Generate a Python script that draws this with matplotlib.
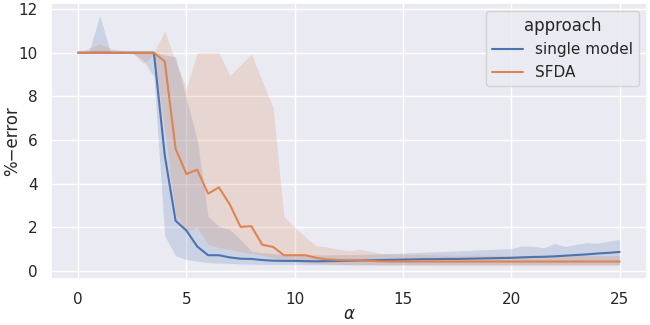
import numpy as np
import matplotlib
matplotlib.use("Agg")
import matplotlib.pyplot as plt
import seaborn as sns

alpha = [i * 0.5 for i in range(51)]

single_mean = [10, 10, 10, 10, 10, 10, 10, 10, 5.3, 2.3,
               1.85, 1.12, 0.72, 0.72, 0.62, 0.56, 0.55, 0.5, 0.47, 0.46,
               0.46, 0.45, 0.44, 0.45, 0.46, 0.47, 0.48, 0.49, 0.5, 0.51,
               0.52, 0.53, 0.54, 0.54, 0.55, 0.55, 0.56, 0.57, 0.58, 0.59,
               0.6, 0.62, 0.64, 0.65, 0.67, 0.7, 0.73, 0.76, 0.8, 0.83, 0.87]
single_hi = [10, 10.05, 11.7, 10, 10, 10, 10, 10, 9.9, 9.8,
             7.9, 6.0, 2.5, 2.05, 1.9, 1.44, 0.91, 0.83, 0.8, 0.75,
             0.75, 0.74, 0.74, 0.74, 0.75, 0.75, 0.76, 0.77, 0.78, 0.8,
             0.82, 0.84, 0.86, 0.88, 0.9, 0.92, 0.94, 0.96, 0.98, 1.0,
             1.03, 1.14, 1.13, 1.06, 1.26, 1.12, 1.22, 1.3, 1.27, 1.37, 1.44]
single_lo = [10, 10, 10, 10, 10, 10, 9.65, 8.9, 1.6, 0.7,
             0.52, 0.45, 0.38, 0.36, 0.34, 0.32, 0.31, 0.3, 0.3, 0.3,
             0.3, 0.29, 0.29, 0.29, 0.29, 0.29, 0.29, 0.29, 0.29, 0.29,
             0.29, 0.29, 0.29, 0.29, 0.29, 0.29, 0.29, 0.29, 0.29, 0.29,
             0.29, 0.29, 0.29, 0.29, 0.29, 0.29, 0.29, 0.29, 0.29, 0.29, 0.29]

sfda_mean = [10, 10, 10, 10, 10, 10, 10, 10, 9.6, 5.6,
             4.44, 4.64, 3.54, 3.83, 3.05, 2.02, 2.05, 1.2, 1.1, 0.72,
             0.72, 0.72, 0.6, 0.53, 0.5, 0.5, 0.5, 0.46, 0.44, 0.43,
             0.43, 0.43, 0.43, 0.43, 0.43, 0.43, 0.43, 0.43, 0.43, 0.43,
             0.43, 0.43, 0.43, 0.43, 0.43, 0.43, 0.43, 0.43, 0.43, 0.43, 0.43]
sfda_hi = [10, 10.2, 10.4, 10.2, 10.1, 10, 10, 10, 11.0, 9.6,
           8.36, 10, 10, 10, 8.95, 9.45, 9.95, 8.7, 7.5, 2.5,
           2.0, 1.55, 1.15, 1.1, 1.0, 0.93, 1.0, 0.9, 0.8, 0.78,
           0.76, 0.75, 0.75, 0.74, 0.73, 0.72, 0.72, 0.72, 0.72, 0.71,
           0.7, 0.7, 0.7, 0.7, 0.7, 0.7, 0.7, 0.7, 0.7, 0.7, 0.7]
sfda_lo = [10, 10, 10, 10, 10, 10, 9.5, 9.9, 6.5, 2.6,
           1.82, 2.0, 1.22, 1.07, 0.99, 0.87, 0.8, 0.72, 0.62, 0.46,
           0.42, 0.38, 0.35, 0.32, 0.3, 0.28, 0.27, 0.26, 0.25, 0.25,
           0.25, 0.25, 0.25, 0.24, 0.24, 0.24, 0.24, 0.24, 0.24, 0.24,
           0.24, 0.24, 0.24, 0.24, 0.24, 0.24, 0.24, 0.24, 0.24, 0.24, 0.24]

approaches = ["single model", "SFDA"]
x_ticks = [0, 5, 10, 15, 20, 25]
y_ticks = [0, 2, 4, 6, 8, 10, 12]

sns.set_theme(style="darkgrid")
pal = sns.color_palette("deep")

fig = plt.figure(figsize=(6.5, 3.25), dpi=100)
ax = fig.add_axes([0.0785, 0.1415, 0.9165, 0.8495])

series = [(single_mean, single_lo, single_hi), (sfda_mean, sfda_lo, sfda_hi)]
for i, (name, (m, lo, hi)) in enumerate(zip(approaches, series)):
    ax.fill_between(alpha, lo, hi, color=pal[i], alpha=0.2, linewidth=0)
    ax.plot(alpha, m, color=pal[i], lw=1.5, label=name)

ax.set_xlim(-1.25, 26.25)
ax.set_ylim(-0.37, 12.28)
ax.set_xticks(x_ticks)
ax.set_yticks(y_ticks)
ax.set_xlabel(r"$\alpha$", labelpad=-1.5)
ax.set_ylabel("%\u2212error", labelpad=-2)
ax.legend(title="approach", loc="upper right")

fig.savefig("out.png", dpi=100)
